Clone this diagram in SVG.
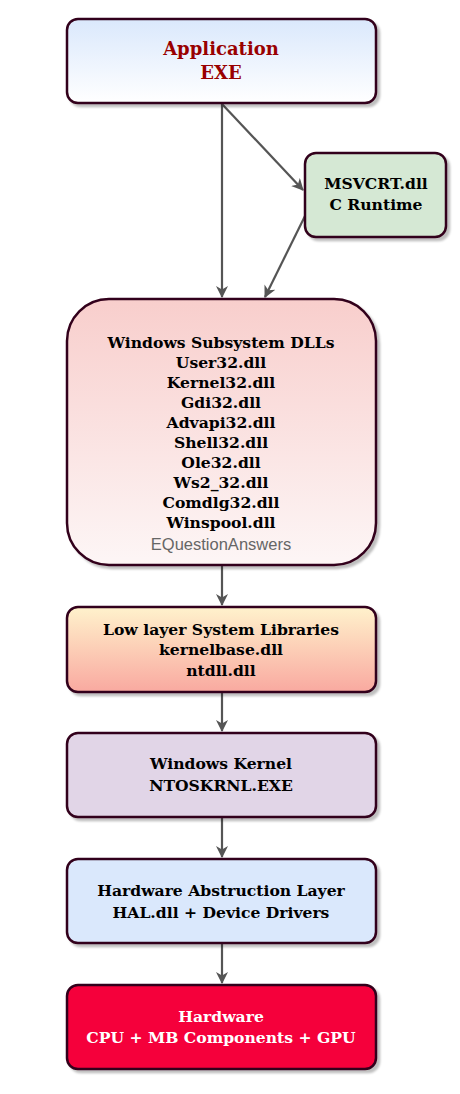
<svg xmlns="http://www.w3.org/2000/svg" width="460" height="1094" viewBox="0 0 460 1094">
<style>
.box{stroke:#33001a;stroke-width:2.5;filter:url(#sh)}
.t{font-family:"DejaVu Serif","Liberation Serif",serif;font-weight:bold;font-size:15.6px;text-anchor:middle;fill:#000}
.edge{stroke:#555;stroke-width:2.2;fill:none;marker-end:url(#arr)}
</style>
<defs>
<filter id="sh" x="-10%" y="-10%" width="130%" height="130%">
<feDropShadow dx="3" dy="3" stdDeviation="0.8" flood-color="#000" flood-opacity="0.25"/>
</filter>
<linearGradient id="gApp" x1="0" y1="0" x2="0" y2="1"><stop offset="0" stop-color="#dae8fc"/><stop offset="1" stop-color="#ffffff"/></linearGradient>
<linearGradient id="gSub" x1="0" y1="0" x2="0" y2="1"><stop offset="0" stop-color="#f8cecc"/><stop offset="1" stop-color="#fdf6f6"/></linearGradient>
<linearGradient id="gLow" x1="0" y1="0" x2="0" y2="1"><stop offset="0" stop-color="#fff2cc"/><stop offset="1" stop-color="#f9a9a0"/></linearGradient>
<marker id="arr" viewBox="0 0 12 12" refX="11" refY="6" markerWidth="12" markerHeight="12" markerUnits="userSpaceOnUse" orient="auto">
<path d="M0,0 L12,6 L0,12 L3.5,6 Z" fill="#555"/>
</marker>
</defs>

<g id="connectors">
<line class="edge" x1="222" y1="104" x2="222" y2="297"/>
<line class="edge" x1="222" y1="104" x2="303" y2="190"/>
<line class="edge" x1="305" y1="216" x2="265" y2="297"/>
<line class="edge" x1="222" y1="566" x2="222" y2="605"/>
<line class="edge" x1="222" y1="693" x2="222" y2="731"/>
<line class="edge" x1="222" y1="818" x2="222" y2="857"/>
<line class="edge" x1="222" y1="944" x2="222" y2="983"/>
</g>

<g id="app">
<rect class="box" x="67" y="19" width="309" height="84" rx="11" fill="url(#gApp)"/>
<text class="t" x="221" y="55" style="fill:#990000;font-size:18px">Application</text>
<text class="t" x="221" y="79" style="fill:#990000;font-size:18px">EXE</text>
</g>

<g id="msvcrt">
<rect class="box" x="305" y="153" width="141" height="84" rx="11" fill="#d5e8d4"/>
<text class="t" x="376" y="188.5">MSVCRT.dll</text>
<text class="t" x="376" y="209.5">C Runtime</text>
</g>

<g id="subsystem">
<rect class="box" x="67" y="299" width="309" height="266" rx="42" fill="url(#gSub)"/>
<text class="t" x="221" y="347.5">Windows Subsystem DLLs</text>
<text class="t" x="221" y="367.5">User32.dll</text>
<text class="t" x="221" y="387.5">Kernel32.dll</text>
<text class="t" x="221" y="407.5">Gdi32.dll</text>
<text class="t" x="221" y="427.5">Advapi32.dll</text>
<text class="t" x="221" y="447.5">Shell32.dll</text>
<text class="t" x="221" y="467.5">Ole32.dll</text>
<text class="t" x="221" y="487.5">Ws2_32.dll</text>
<text class="t" x="221" y="507.5">Comdlg32.dll</text>
<text class="t" x="221" y="527.5">Winspool.dll</text>
<text x="221" y="550" style="font-family:'Liberation Sans',Arial,sans-serif;font-size:16.5px;fill:#666;text-anchor:middle">EQuestionAnswers</text>
</g>

<g id="lowlayer">
<rect class="box" x="67" y="607" width="309" height="85" rx="11" fill="url(#gLow)"/>
<text class="t" x="221" y="634.5">Low layer System Libraries</text>
<text class="t" x="221" y="655">kernelbase.dll</text>
<text class="t" x="221" y="676">ntdll.dll</text>
</g>

<g id="kernel">
<rect class="box" x="67" y="733" width="309" height="84" rx="11" fill="#e1d5e7"/>
<text class="t" x="221" y="768.5">Windows Kernel</text>
<text class="t" x="221" y="790.5">NTOSKRNL.EXE</text>
</g>

<g id="hal">
<rect class="box" x="67" y="859" width="309" height="84" rx="11" fill="#dae8fc"/>
<text class="t" x="221" y="895.5">Hardware Abstruction Layer</text>
<text class="t" x="221" y="917.5">HAL.dll + Device Drivers</text>
</g>

<g id="hardware">
<rect class="box" x="67" y="985" width="309" height="84" rx="11" fill="#f5003a"/>
<text class="t" x="221" y="1021.5" style="fill:#fff">Hardware</text>
<text class="t" x="221" y="1042.5" style="fill:#fff">CPU + MB Components + GPU</text>
</g>
</svg>
